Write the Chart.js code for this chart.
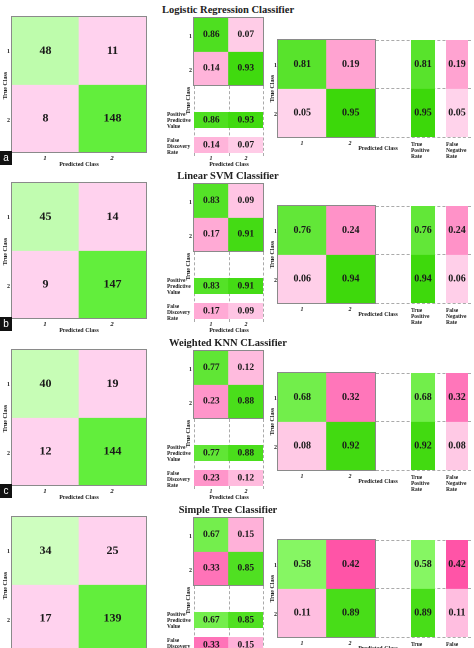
<!DOCTYPE html>
<html><head><meta charset="utf-8">
<script src="https://cdn.jsdelivr.net/npm/chart.js@4"></script>
<style>
body{margin:0;background:#fff;width:474px;height:648px;position:relative;overflow:hidden;font-family:"Liberation Serif",serif;font-weight:bold;color:#222}
.t{position:absolute;white-space:nowrap;font-size:7px;line-height:7px}
canvas{position:absolute}
.box{position:absolute;border:1px solid #8a8a8a;box-sizing:border-box;pointer-events:none}
.dv{position:absolute;border-left:1px dashed #aaa;width:0}
.dh{position:absolute;border-top:1px dashed #aaa;height:0}
</style></head><body>
<script>
const titles=["Logistic Regression Classifier","Linear SVM Classifier","Weighted KNN CLassifier","Simple Tree Classifier"];
const panelLetters=["a","b","c",""];
const counts=[[48,11,8,148],[45,14,9,147],[40,19,12,144],[34,25,17,139]];
const colMat=[[0.86,0.07,0.14,0.93],[0.83,0.09,0.17,0.91],[0.77,0.12,0.23,0.88],[0.67,0.15,0.33,0.85]];
const ppv=[[0.86,0.93],[0.83,0.91],[0.77,0.88],[0.67,0.85]];
const fdr=[[0.14,0.07],[0.17,0.09],[0.23,0.12],[0.33,0.15]];
const rowMat=[[0.81,0.19,0.05,0.95],[0.76,0.24,0.06,0.94],[0.68,0.32,0.08,0.92],[0.58,0.42,0.11,0.89]];
const tpr=[[0.81,0.95],[0.76,0.94],[0.68,0.92],[0.58,0.89]];
const fnr=[[0.19,0.05],[0.24,0.06],[0.32,0.08],[0.42,0.11]];
const offsets=[0,166,333,500];

function mix(a,b,t){t=Math.max(0,Math.min(1,t));const p=s=>[1,3,5].map(i=>parseInt(s.substr(i,2),16));const A=p(a),B=p(b);return'rgb('+A.map((v,i)=>Math.round(v+(B[i]-v)*t)).join(',')+')';}
function green(v){return mix('#8cf86a','#3cd80a',(v-0.55)/0.4);}
function pink(v){return mix('#ffe4f4','#ff4aa2',v/0.45);}
function leftGreen(c){return mix('#d2ffc4','#62ee3c',(c-30)/100);}

function txt(s,x,y,opts={}){const d=document.createElement('div');d.className='t';d.innerHTML=s;d.style.left=x+'px';d.style.top=y+'px';Object.assign(d.style,opts);document.body.appendChild(d);return d;}
function ctxt(s,cx,y,size,opts={}){return txt(s,0,y,Object.assign({fontSize:size+'px',lineHeight:size+'px',width:'200px',textAlign:'center',left:(cx-100)+'px'},opts));}
function rot(s,cx,cy){txt(s,cx-30,cy-3,{width:'60px',textAlign:'center',transform:'rotate(-90deg)',fontSize:'6px'});}
function dv(x,y,h){const d=document.createElement('div');d.className='dv';Object.assign(d.style,{left:x+'px',top:y+'px',height:h+'px'});document.body.appendChild(d);}
function dh(x,y,w){const d=document.createElement('div');d.className='dh';Object.assign(d.style,{left:x+'px',top:y+'px',width:w+'px'});document.body.appendChild(d);}
function box(x,y,w,h){const d=document.createElement('div');d.className='box';Object.assign(d.style,{left:x+'px',top:y+'px',width:w+'px',height:h+'px'});document.body.appendChild(d);}

const labelPlugin={id:'lbl',afterDatasetsDraw(ch){const c=ch.ctx;const o=ch.options.plugins.lbl;c.save();c.font='bold '+o.size+'px "Liberation Serif"';c.fillStyle='#1a1a1a';c.textAlign='center';c.textBaseline='middle';
 ch.data.datasets.forEach((ds,i)=>{ch.getDatasetMeta(i).data.forEach((b,j)=>{c.fillText(ds.txt[j],b.x,(b.y+b.base)/2);});});c.restore();}};

function heat(x,y,w,h,rows,cols,vals,colors,size,fmt){
 const cv=document.createElement('canvas');cv.width=w;cv.height=h;cv.style.left=x+'px';cv.style.top=y+'px';cv.style.width=w+'px';cv.style.height=h+'px';document.body.appendChild(cv);
 const labels=[...Array(cols).keys()].map(i=>String(i+1));
 const datasets=[...Array(rows).keys()].map(r=>({data:labels.map(()=>[r,r+1]),backgroundColor:labels.map((_,c)=>colors[r*cols+c]),txt:labels.map((_,c)=>fmt(vals[r*cols+c])),borderWidth:0,barPercentage:1,categoryPercentage:1}));
 new Chart(cv,{type:'bar',data:{labels,datasets},plugins:[labelPlugin],options:{responsive:false,animation:false,devicePixelRatio:2,layout:{padding:0},
  plugins:{legend:{display:false},tooltip:{enabled:false},lbl:{size}},
  scales:{x:{display:false,stacked:true,offset:true},y:{display:false,min:0,max:rows,reverse:true}}}});
}
const f2=v=>v.toFixed(2), f0=v=>String(v);

offsets.forEach((o,p)=>{
 ctxt(titles[p],228,o+5,10.5);
 const cnt=counts[p];
 heat(12,o+17,134,135,2,2,cnt,[leftGreen(cnt[0]),'#ffd2ee','#ffd2ee',leftGreen(cnt[3])],12,f0);
 box(11,o+16,136,137);
 txt('1',7,o+48,{fontSize:'6px'});txt('2',7,o+117,{fontSize:'6px'});
 rot('True Class',5,o+85);
 ctxt('<i>1</i>',45,o+155,7);ctxt('<i>2</i>',112,o+155,7);
 ctxt('Predicted Class',79,o+161,6);
 const cm=colMat[p];
 heat(194,o+18,69,67,2,2,cm,[green(cm[0]),pink(cm[1]),pink(cm[2]),green(cm[3])],9.5,f2);
 box(193,o+17,71,69);
 dv(194,o+86,70);dv(229,o+86,70);dv(263,o+86,70);
 heat(194,o+112,69,16,1,2,ppv[p],ppv[p].map(green),9.5,f2);
 heat(194,o+137,69,16,1,2,fdr[p],fdr[p].map(pink),9.5,f2);
 txt('Positive<br>Predictive<br>Value',167,o+111,{fontSize:'5.5px',lineHeight:'6px'});
 txt('False<br>Discovery<br>Rate',167,o+137,{fontSize:'5.5px',lineHeight:'6px'});
 txt('1',189,o+33,{fontSize:'6px'});txt('2',189,o+67,{fontSize:'6px'});
 rot('True Class',188,o+100);
 ctxt('<i>1</i>',211,o+155,6);ctxt('<i>2</i>',246,o+155,6);
 ctxt('Predicted Class',229,o+161,6);
 const rm=rowMat[p];
 heat(278,o+40,97,97,2,2,rm,[green(rm[0]),pink(rm[1]),pink(rm[2]),green(rm[3])],10,f2);
 box(277,o+39,99,99);
 dh(376,o+40,95);dh(376,o+88,95);dh(376,o+137,95);
 heat(411,o+40,24,97,2,1,tpr[p],tpr[p].map(green),10,f2);
 heat(446,o+40,22,97,2,1,fnr[p],fnr[p].map(pink),10,f2);
 txt('1',274,o+62,{fontSize:'6px'});txt('2',274,o+111,{fontSize:'6px'});
 rot('True Class',272,o+88);
 ctxt('<i>1</i>',302,o+140,6);ctxt('<i>2</i>',350,o+140,6);
 ctxt('Predicted Class',378,o+145,6);
 txt('True<br>Positive<br>Rate',411,o+141,{fontSize:'5.5px',lineHeight:'6px'});
 txt('False<br>Negative<br>Rate',446,o+141,{fontSize:'5.5px',lineHeight:'6px'});
 if(panelLetters[p]){txt(panelLetters[p],0,o+151,{width:'12px',height:'14px',lineHeight:'14px',background:'#111',color:'#fff',fontFamily:'"Liberation Sans"',fontWeight:'normal',fontSize:'10px',textAlign:'center'});}
});
</script>
</body></html>
